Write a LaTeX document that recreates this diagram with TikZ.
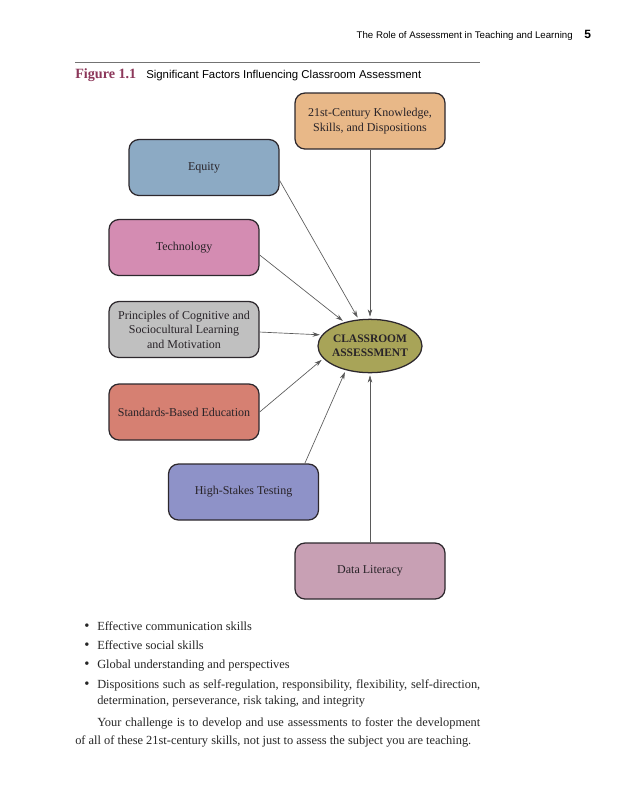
\documentclass[tikz,border=0pt]{standalone}
\usepackage{fontspec}
\setmainfont{Liberation Serif}
\setsansfont{Liberation Sans}
\usetikzlibrary{shapes.geometric,arrows.meta}
\definecolor{cKnow}{RGB}{232,184,136}
\definecolor{cEq}{RGB}{140,170,196}
\definecolor{cTech}{RGB}{212,140,178}
\definecolor{cPrin}{RGB}{192,192,192}
\definecolor{cStd}{RGB}{214,128,114}
\definecolor{cHigh}{RGB}{142,146,200}
\definecolor{cData}{RGB}{200,160,180}
\definecolor{cEll}{RGB}{168,164,88}
\definecolor{cBorder}{RGB}{45,40,45}
\definecolor{cText}{RGB}{40,35,40}
\definecolor{cFig}{RGB}{140,55,90}
\definecolor{cArrow}{RGB}{90,90,90}
\tikzset{
  factor/.style={draw=cBorder, line width=0.95pt, rounded corners=7.5pt,
    minimum width=112.5pt, minimum height=42pt, inner sep=0pt, align=center,
    font=\fontsize{9}{10.8}\selectfont, text=cText},
  centre/.style={ellipse, draw=cBorder, line width=0.95pt, fill=cEll,
    minimum width=78pt, minimum height=40pt, inner sep=0pt},
  centretext/.style={inner sep=0pt, align=center,
    font=\fontsize{8.6}{10.6}\selectfont\bfseries, text=cText},
  link/.style={draw=cArrow, line width=0.5pt, -{Stealth[length=5.5pt,width=3.4pt]}, shorten >=1.5pt},
  body/.style={anchor=base west, inner sep=0pt, font=\fontsize{9.3}{14}\selectfont, text=black!85},
  bul/.style={anchor=base, inner sep=0pt, font=\fontsize{11}{14}\selectfont, text=black!85}
}
\begin{document}
\begin{tikzpicture}[x=0.75pt,y=-0.75pt]
\useasboundingbox (0,0) rectangle (638,790);
% header
\node[anchor=base east, inner sep=0pt, font=\sffamily\fontsize{7.25}{9}\selectfont] (hdr) at (573,38) {The Role of Assessment in Teaching and Learning};
\node[anchor=base west, inner sep=0pt, font=\sffamily\bfseries\fontsize{9}{10}\selectfont] (pg) at (584,38) {5};
\coordinate (rl) at (75,62);
\coordinate (rr) at (480,62);
\draw[black!55, line width=0.6pt] (rl) -- (rr);
\node[anchor=base west, inner sep=0pt, font=\bfseries\fontsize{10.6}{12}\selectfont, text=cFig] (fig) at (75,78) {Figure 1.1};
\node[anchor=base west, inner sep=0pt, font=\sffamily\fontsize{8.55}{10}\selectfont] (cap) at (146,78) {Significant Factors Influencing Classroom Assessment};
% nodes
\node[factor, fill=cKnow] (know) at (370,121) {21st-Century Knowledge,\\Skills, and Dispositions};
\node[factor, fill=cEq] (eq) at (204,167.5) {Equity};
\node[factor, fill=cTech] (tech) at (184,247.5) {Technology};
\node[factor, fill=cPrin] (prin) at (184,329.5) {Principles of Cognitive and\\Sociocultural Learning\\and Motivation};
\node[factor, fill=cStd] (std) at (184,412) {Standards-Based Education};
\node[factor, fill=cHigh] (high) at (243.5,492) {High-Stakes Testing};
\node[factor, fill=cData] (data) at (370,571) {Data Literacy};
\node[centre] (ca) at (370,346) {};
\node[centretext] (cat) at (ca.center) {CLASSROOM\\ASSESSMENT};
% links
\draw[link] (know.south) -- (ca.90);
\draw[link] ([yshift=-9.75pt]eq.east) -- (ca.113);
\draw[link] ([yshift=-5.6pt]tech.east) -- (ca.137);
\draw[link] ([yshift=-1.9pt]prin.east) -- (ca.167);
\draw[link] (std.east) -- (ca.195);
\draw[link] ([xshift=46pt]high.north) -- (ca.225);
\draw[link] (data.north) -- (ca.270);
% text below
\node[bul] (b1) at (87,630) {•};
\node[body] (t1) at (97,630) {Effective communication skills};
\node[bul] (b2) at (87,649) {•};
\node[body] (t2) at (97,649) {Effective social skills};
\node[bul] (b3) at (87,668) {•};
\node[body] (t3) at (97,668) {Global understanding and perspectives};
\node[bul] (b4) at (87,688) {•};
\node[body] (t4) at (97,688) {\makebox[287.25pt][s]{Dispositions such as self-regulation, responsibility, flexibility, self-direction,}};
\node[body] (t5) at (97,704) {determination, perseverance, risk taking, and integrity};
\node[body] (p1) at (97,726) {\makebox[287.25pt][s]{Your challenge is to develop and use assessments to foster the development}};
\node[body] (p2) at (75,744) {of all of these 21st-century skills, not just to assess the subject you are teaching.};
\end{tikzpicture}
\end{document}
